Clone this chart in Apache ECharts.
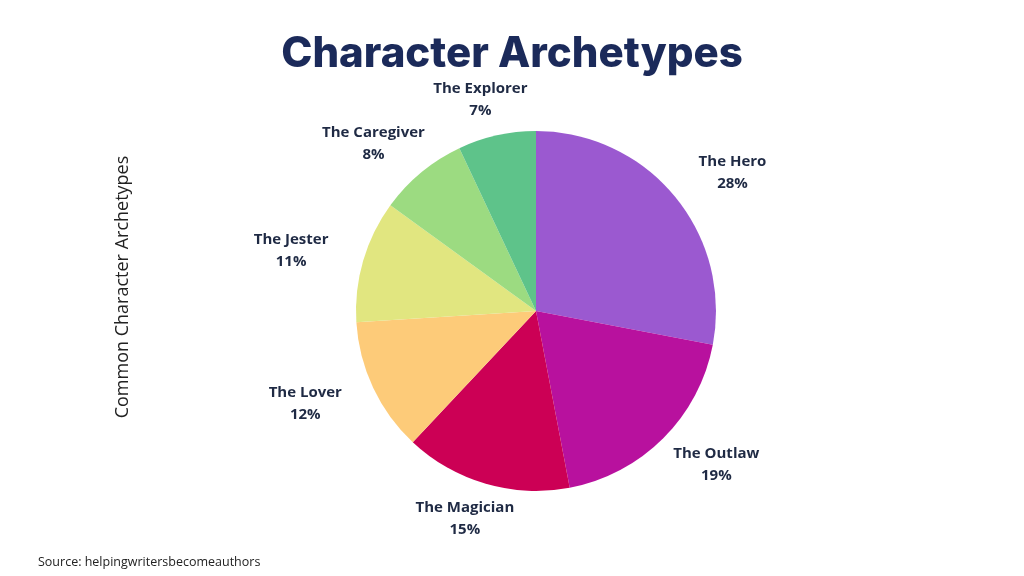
<!DOCTYPE html>
<html><head><meta charset="utf-8">
<script src="https://cdn.jsdelivr.net/npm/echarts@6/dist/echarts.min.js"></script>
<style>html,body{margin:0;padding:0;background:#fff}#c{width:1024px;height:576px}</style>
</head><body><div id="c"></div>
<script>
const categories = ["The Hero","The Outlaw","The Magician","The Lover","The Jester","The Caregiver","The Explorer"];
const values = [28,19,15,12,11,8,7];
const colors = ["#9B59D0","#B8119E","#CC0055","#FDCB79","#E1E680","#9CDB81","#5EC38A"];
const titleText = "Character Archetypes";
const sideText = "Common Character Archetypes";
const sourceText = "Source: helpingwritersbecomeauthors";

const CX = 536, CY = 311;
const chart = echarts.init(document.getElementById('c'));
const data = categories.map((n,i)=>({name:n,value:values[i],itemStyle:{color:colors[i]}}));
chart.setOption({
  animation:false,
  title:{text:titleText,left:'center',top:28,textStyle:{fontFamily:'Inter',fontWeight:800,fontSize:42,color:'#1B2A5A'}},
  graphic:[
    {type:'text',x:123,y:287,rotation:Math.PI/2,style:{text:sideText,font:'18px "Open Sans"',fill:'#222',textAlign:'center',textVerticalAlign:'middle'}},
    {type:'text',left:38,top:556,style:{text:sourceText,font:'12.5px "Open Sans"',fill:'#222'}}
  ],
  series:[
    {type:'pie',center:[CX,CY],radius:[0,180],startAngle:90,clockwise:true,silent:true,
     label:{show:false},labelLine:{show:false},data:data},
    {type:'pie',center:[CX,CY],radius:[180,324],startAngle:90,clockwise:true,silent:true,
     itemStyle:{color:'rgba(0,0,0,0)'},
     label:{show:true,position:'inside',formatter:p=>p.name+'\n'+p.value+'%',
       fontFamily:'Open Sans',fontWeight:'bold',fontSize:15,lineHeight:22,color:'#1F2A44',align:'center'},
     labelLine:{show:false},
     labelLayout:function(p){
       const r=p.labelRect;
       const cx=r.x+r.width/2, cy=r.y+r.height/2;
       return {x:CX+(cx-CX), y:CY+(cy-CY)*0.85, align:'center', verticalAlign:'middle'};
     },
     data:categories.map((n,i)=>({name:n,value:values[i]}))}
  ]
});
</script></body></html>
